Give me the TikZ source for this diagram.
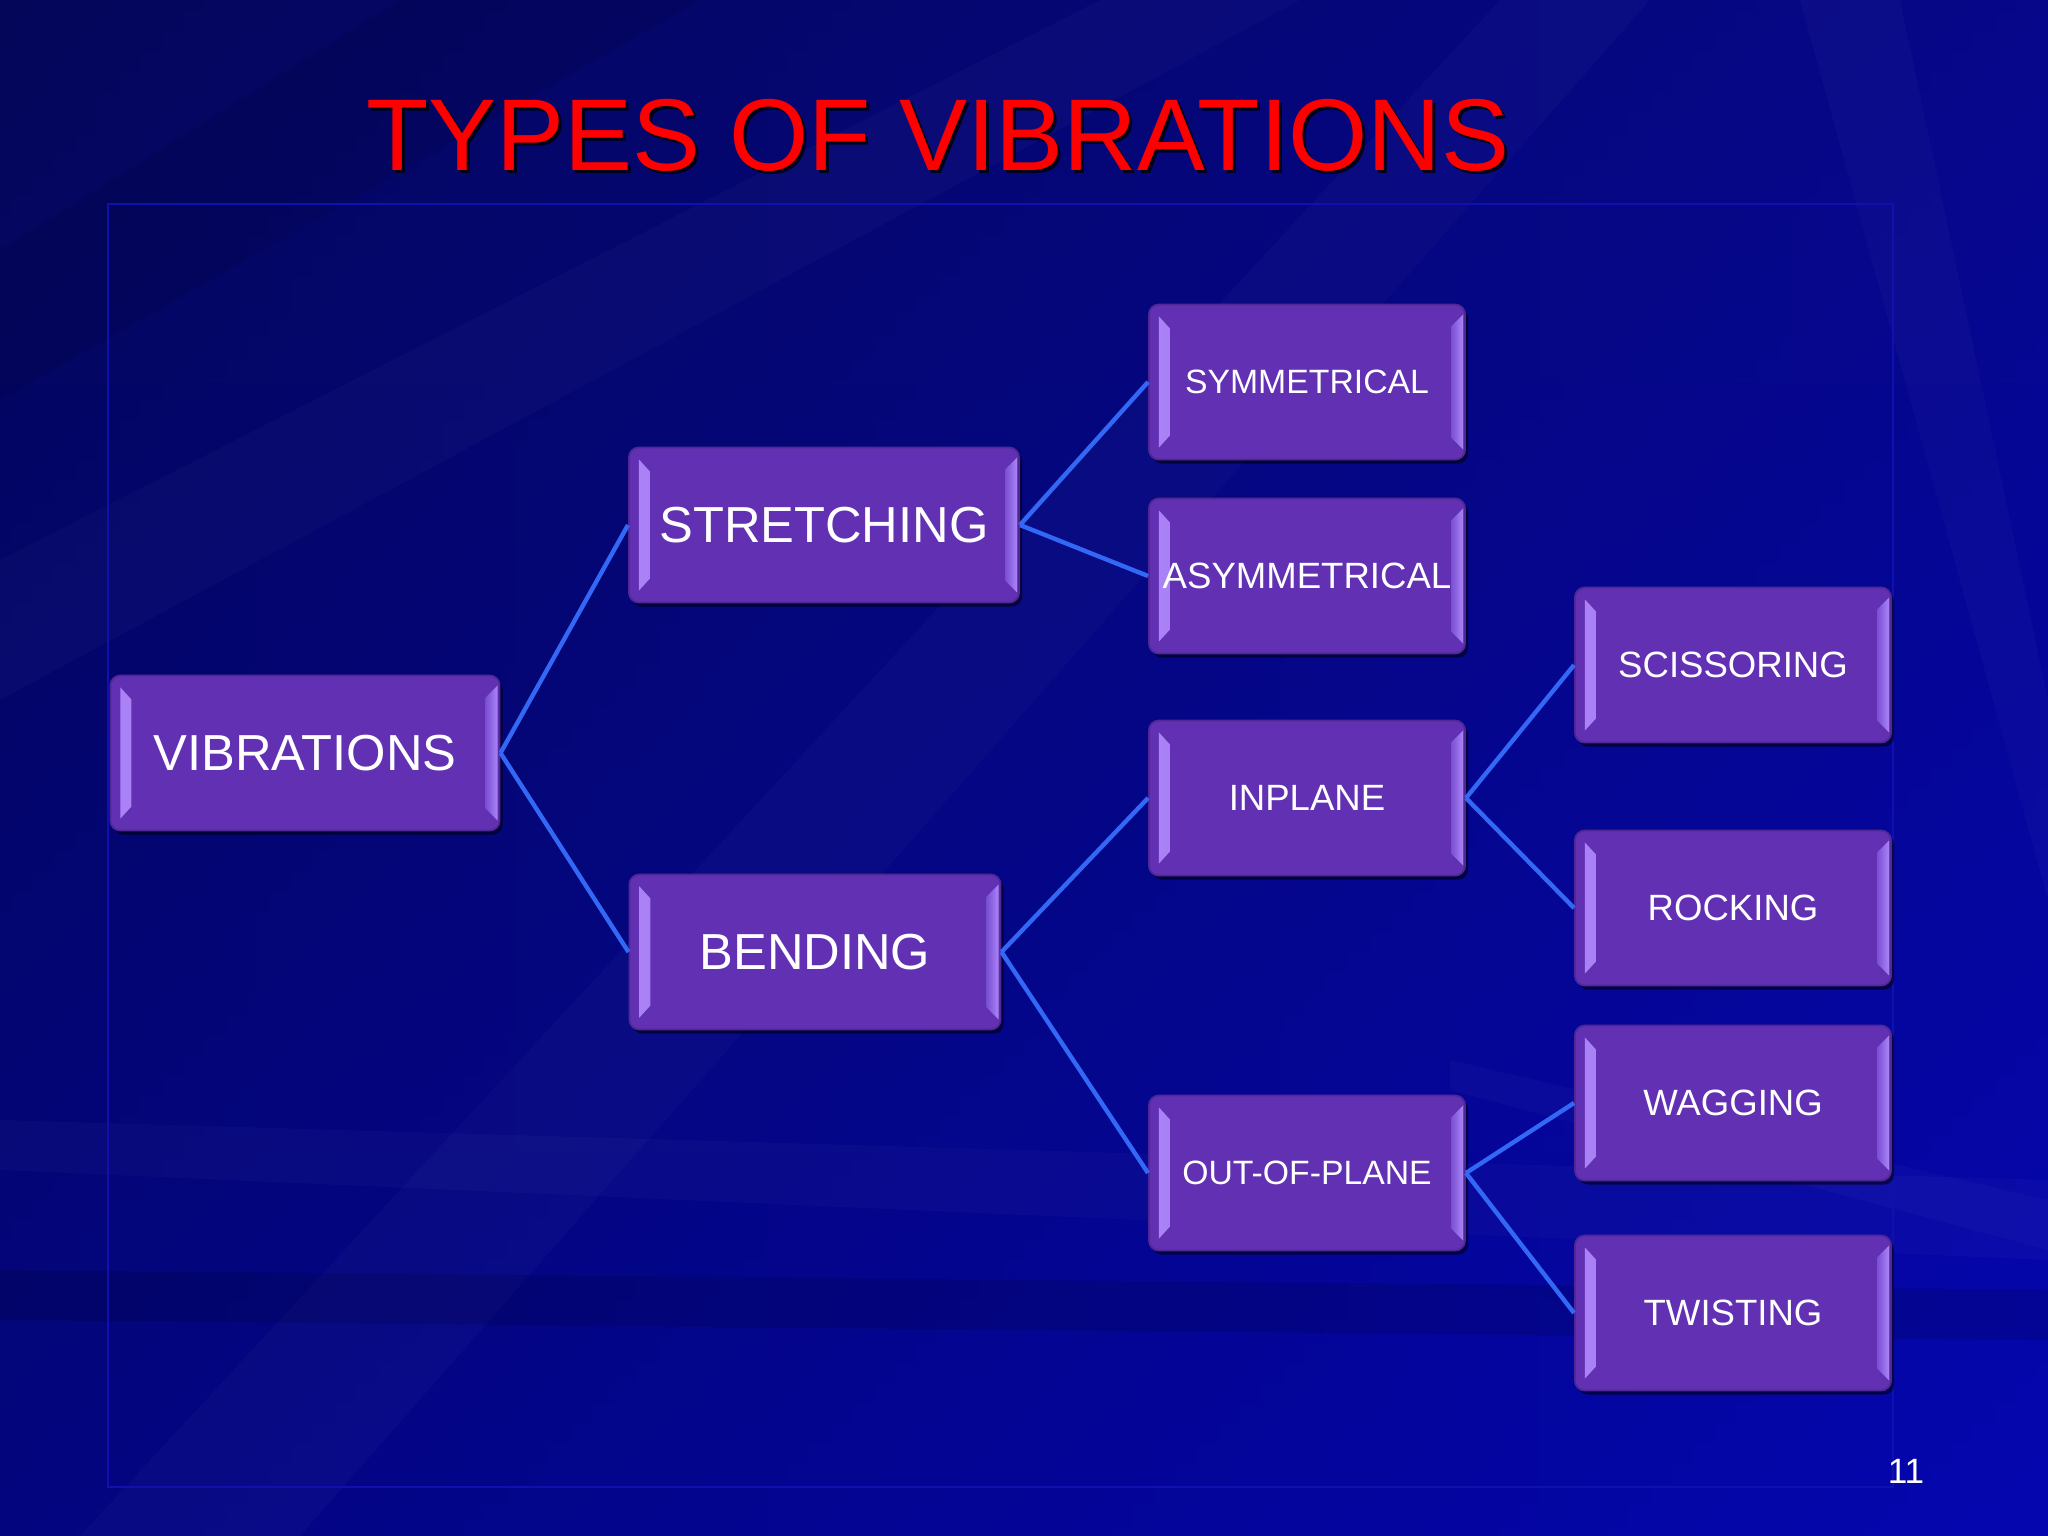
\documentclass[tikz,border=0pt]{standalone}
\usepackage{fontspec}
\setmainfont{Liberation Sans}
\usetikzlibrary{calc,shadows}
\definecolor{bgtop}{RGB}{4,6,90}
\definecolor{bgbot}{RGB}{2,4,165}
\definecolor{bgright}{RGB}{8,8,185}
\definecolor{framecol}{RGB}{16,16,175}
\definecolor{boxfill}{RGB}{98,48,178}
\definecolor{boxedge}{RGB}{80,40,150}
\definecolor{bevel}{RGB}{172,132,248}
\definecolor{bevelin}{RGB}{120,80,210}
\definecolor{conncol}{RGB}{50,104,245}
\definecolor{titlered}{RGB}{255,0,0}
\tikzset{
  vbox/.style={rectangle, rounded corners=0.1cm, fill=boxfill, draw=boxedge, line width=0.5pt,
    text=white, inner sep=0pt, minimum height=1.55cm, align=center,
    drop shadow={shadow xshift=0.03cm, shadow yshift=-0.04cm, opacity=0.55, fill=black},
    path picture={
      \shade[sharp corners, left color=bevel, right color=bevelin]
        ($(path picture bounding box.north west)+(10,12)$) -- ($(path picture bounding box.north west)+(21,24)$) --
        ($(path picture bounding box.south west)+(21,-24)$) -- ($(path picture bounding box.south west)+(10,-12)$) -- cycle;
      \shade[sharp corners, left color=bevelin, right color=bevel]
        ($(path picture bounding box.north east)+(-2,10)$) -- ($(path picture bounding box.north east)+(-14,22)$) --
        ($(path picture bounding box.south east)+(-14,-22)$) -- ($(path picture bounding box.south east)+(-2,-10)$) -- cycle;
    }},
  bigbox/.style={vbox, font=\fontsize{14.4}{17}\selectfont},
  smallbox/.style={vbox, minimum width=3.16cm, font=\fontsize{10.4}{12.5}\selectfont},
  conn/.style={draw=conncol, line width=1.25pt},
  streak/.style={fill=white, opacity=0.025}
}
\begin{document}
\begin{tikzpicture}[x=0.01cm,y=-0.01cm]
\useasboundingbox (0,0) rectangle (2048,1536);
% background
\shade[top color=bgtop, bottom color=bgbot] (0,0) rectangle (2048,1536);
\shade[left color=bgtop, right color=bgright, opacity=0.5] (0,0) rectangle (2048,1536);
% streaks
\fill[streak] (1100,0) -- (1300,0) -- (0,700) -- (0,560) -- cycle;
\fill[streak] (1500,0) -- (1650,0) -- (300,1536) -- (80,1536) -- cycle;
\fill[streak] (1800,0) -- (1900,0) -- (2048,700) -- (2048,900) -- cycle;
\fill[streak] (0,1120) -- (2048,1180) -- (2048,1260) -- (0,1170) -- cycle;
\fill[streak] (1450,1060) -- (2048,1200) -- (2048,1250) -- (1450,1090) -- cycle;
\fill[black, opacity=0.12] (0,1270) -- (2048,1290) -- (2048,1340) -- (0,1320) -- cycle;
\fill[black, opacity=0.08] (400,0) -- (700,0) -- (0,400) -- (0,250) -- cycle;
% frame
\draw[framecol, line width=0.4pt] (108,204) rectangle (1893,1487);
% title
\node[anchor=base, text=black, opacity=0.8, font=\fontsize{29}{34}\selectfont] (titleshadow) at (941,173) {TYPES OF VIBRATIONS};
\node[anchor=base, text=titlered, font=\fontsize{29}{34}\selectfont] (title) at (938,170) {TYPES OF VIBRATIONS};
% boxes
\node[bigbox, minimum width=3.89cm] (vib) at (305,753) {VIBRATIONS};
\node[bigbox, minimum width=3.90cm] (str) at (824,525) {STRETCHING};
\node[bigbox, minimum width=3.71cm] (ben) at (815,952) {BENDING};
\node[smallbox, font=\fontsize{9.6}{11.5}\selectfont] (sym) at (1307,382) {SYMMETRICAL};
\node[smallbox] (asym) at (1307,576) {ASYMMETRICAL};
\node[smallbox] (inp) at (1307,798) {INPLANE};
\node[smallbox, font=\fontsize{9.6}{11.5}\selectfont] (oop) at (1307,1173) {OUT-OF-PLANE};
\node[smallbox] (sci) at (1733,665) {SCISSORING};
\node[smallbox] (roc) at (1733,908) {ROCKING};
\node[smallbox] (wag) at (1733,1103) {WAGGING};
\node[smallbox] (twi) at (1733,1313) {TWISTING};
% connectors
\draw[conn] (vib.east) -- (str.west);
\draw[conn] (vib.east) -- (ben.west);
\draw[conn] (str.east) -- (sym.west);
\draw[conn] (str.east) -- (asym.west);
\draw[conn] (ben.east) -- (inp.west);
\draw[conn] (ben.east) -- (oop.west);
\draw[conn] (inp.east) -- (sci.west);
\draw[conn] (inp.east) -- (roc.west);
\draw[conn] (oop.east) -- (wag.west);
\draw[conn] (oop.east) -- (twi.west);
% page number
\node[anchor=base, text=white, font=\fontsize{10}{12}\selectfont] (pagenum) at (1906,1483) {11};
\end{tikzpicture}
\end{document}
